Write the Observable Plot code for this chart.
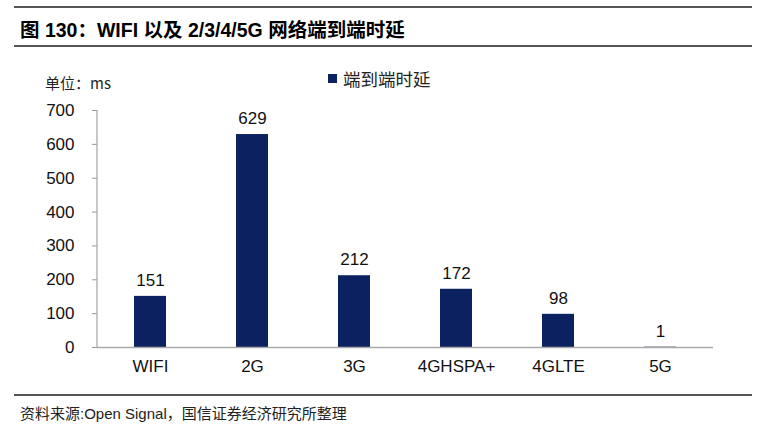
<!DOCTYPE html>
<html><head><meta charset="utf-8">
<script src="https://cdn.jsdelivr.net/npm/d3@7"></script>
<script src="https://cdn.jsdelivr.net/npm/@observablehq/plot@0.6"></script>
<style>
body{margin:0;width:765px;height:428px;position:relative;background:#fff;font-family:"Liberation Sans",Arial,sans-serif;overflow:hidden}
.rule{position:absolute;left:14px;width:738px;height:2px;background:#555}
#title{position:absolute;left:20px;top:14px;font-size:19.5px;font-weight:bold;color:#000;font-family:"Liberation Sans","Noto Sans CJK SC",sans-serif}
#unit{position:absolute;left:45px;top:72px;font-size:15px;color:#222;font-family:"Noto Sans CJK SC",sans-serif}
#legend{position:absolute;left:328px;top:66px;font-size:17.5px;color:#222;font-family:"Noto Sans CJK SC",sans-serif;display:flex;align-items:center}
#legend span.sw{display:inline-block;width:9px;height:9px;background:#0c2160;margin-right:6px}
#chart{position:absolute;left:0;top:58px}
#caption{position:absolute;left:20px;top:402px;font-size:15px;color:#222;font-family:"Liberation Sans","Noto Sans CJK SC",sans-serif}
</style></head>
<body>
<div class="rule" style="top:6px"></div>
<div id="title">图 130：WIFI 以及 2/3/4/5G 网络端到端时延</div>
<div class="rule" style="top:45px"></div>
<div id="unit">单位：ms</div>
<div id="legend"><span class="sw"></span>端到端时延</div>
<div id="chart"></div>
<div class="rule" style="top:394px;height:1.5px"></div>
<div id="caption">资料来源:Open Signal，国信证券经济研究所整理</div>
<script>
const categories = ["WIFI","2G","3G","4GHSPA+","4GLTE","5G"];
const latency = [151,629,212,172,98,1];
const yTicks = [0,100,200,300,400,500,600,700];
const data = categories.map((c,i)=>({cat:c, v:latency[i]}));
const yAxisLine = (index, scales, values, dim) => {
  const g = document.createElementNS("http://www.w3.org/2000/svg","line");
  g.setAttribute("x1", dim.marginLeft); g.setAttribute("x2", dim.marginLeft);
  g.setAttribute("y1", dim.marginTop); g.setAttribute("y2", dim.height - dim.marginBottom);
  g.setAttribute("stroke", "#aaa"); g.setAttribute("stroke-width", 1.3);
  return g;
};
const plot = Plot.plot({
  width:765, height:335,
  marginLeft:97, marginRight:52, marginTop:52, marginBottom:46,
  style:{fontFamily:"'Liberation Sans',Arial,sans-serif", fontSize:"17px", color:"#111", background:"transparent"},
  x:{domain:categories, paddingInner:0.69, paddingOuter:0.345, label:null},
  y:{domain:[0,700], label:null},
  marks:[
    Plot.barY(data,{x:"cat", y:"v", fill:"#0c2160"}),
    Plot.axisX({tickSize:0, tickPadding:12, fontSize:17}),
    Plot.axisY({ticks:yTicks, tickSize:5, tickPadding:18, stroke:"#999", fontSize:17, tickFormat:d=>d}),
    yAxisLine,
    Plot.ruleY([0],{stroke:"#aaa", strokeWidth:1.3}),
    Plot.text(data,{x:"cat", y:"v", text:d=>String(d.v), dy:-16, fontSize:17, fill:"#111"})
  ]
});
document.getElementById("chart").appendChild(plot);
</script>
</body></html>
